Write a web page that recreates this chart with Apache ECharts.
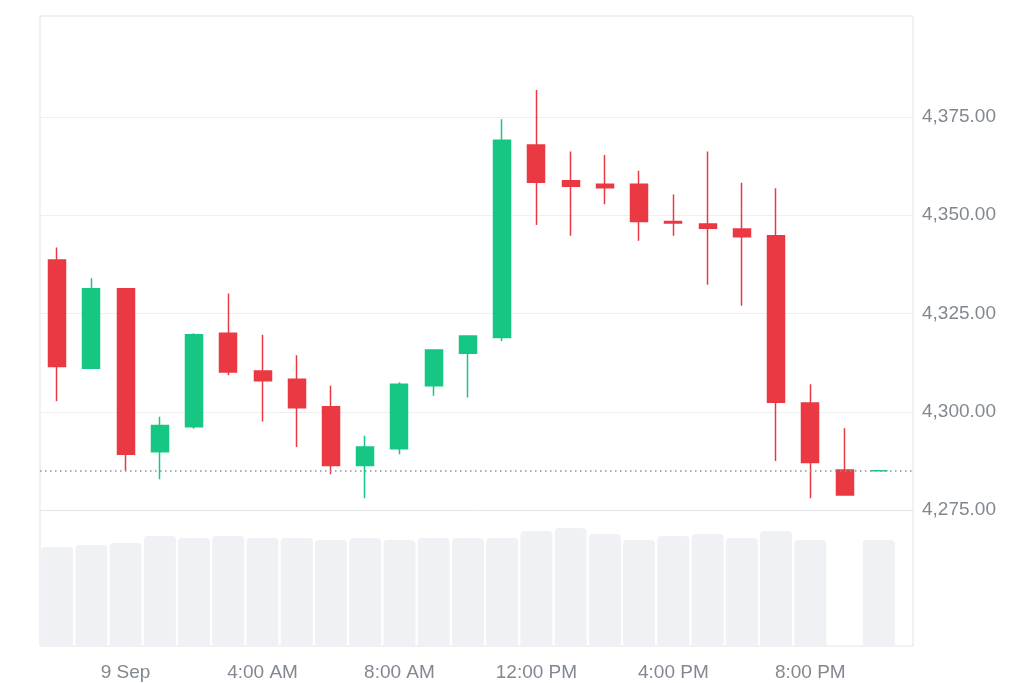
<!DOCTYPE html>
<html>
<head>
<meta charset="utf-8">
<script src="https://cdn.jsdelivr.net/npm/echarts@6/dist/echarts.min.js"></script>
<style>
html,body{margin:0;padding:0;background:#fff;}
#c{width:1024px;height:683px;}
</style>
</head>
<body>
<div id="c"></div>
<script>
// Hourly candles, 10:00 PM (8 Sep) to 10:00 PM (9 Sep)
var times = ['10:00 PM','11:00 PM','9 Sep','1:00 AM','2:00 AM','3:00 AM','4:00 AM','5:00 AM','6:00 AM','7:00 AM','8:00 AM','9:00 AM','10:00 AM','11:00 AM','12:00 PM','1:00 PM','2:00 PM','3:00 PM','4:00 PM','5:00 PM','6:00 PM','7:00 PM','8:00 PM','9:00 PM','10:00 PM'];
var opens  = [4338.6,4311.1,4331.3,4289.8,4296.2,4320.0,4310.4,4308.3,4301.3,4286.3,4290.6,4306.6,4314.9,4318.9,4367.9,4358.8,4357.9,4357.9,4348.4,4347.8,4346.5,4344.8,4302.2,4285.2,4285.0];
var closes = [4311.5,4331.3,4289.2,4296.5,4319.6,4310.1,4307.9,4301.0,4286.3,4291.0,4307.0,4315.7,4319.3,4369.1,4358.4,4357.4,4357.0,4348.4,4348.0,4346.7,4344.5,4302.4,4287.1,4278.8,4285.0];
var lows   = [4302.7,4311.1,4285.0,4282.8,4295.7,4309.3,4297.5,4291.0,4284.1,4278.0,4289.2,4304.1,4303.6,4318.0,4347.5,4344.8,4352.8,4343.5,4344.8,4332.3,4327.0,4287.5,4278.0,4278.8,4285.0];
var highs  = [4341.8,4334.0,4331.3,4298.7,4320.0,4330.1,4319.6,4314.4,4306.6,4293.9,4307.5,4315.7,4319.3,4374.4,4381.9,4366.2,4365.3,4361.3,4355.3,4366.2,4358.3,4356.9,4307.0,4295.8,4285.0];
var volumes = [99,101,103,110,108,110,108,108,106,108,106,108,108,108,115,118,112,106,110,112,108,115,106,0,106];
var xTickIdx = [2,6,10,14,18,22];
var yTicks = [4275,4300,4325,4350,4375];
var lastPrice = 4285.0;

var candleData = times.map(function(t,i){ return [i, opens[i], closes[i], lows[i], highs[i]]; });
var volData = times.map(function(t,i){ return volumes[i] > 0 ? [i, volumes[i]] : [i, '-']; });

var UP = '#16c784', DOWN = '#ea3943';
var FONT = "'Liberation Sans', Arial, sans-serif";
var TXT = '#828891';
var BORDER = '#e3e4e6';

var chart = echarts.init(document.getElementById('c'), null, {renderer:'canvas'});
chart.setOption({
  animation: false,
  backgroundColor: '#fff',
  grid: [
    {left:40, right:111, top:18.75, height:491.25},
    {left:40, right:111, top:510, height:136},
    {left:40, right:111, top:16, height:630, show:true, borderColor:BORDER, borderWidth:1, backgroundColor:'transparent'}
  ],
  xAxis: [
    {type:'value', gridIndex:0, min:-0.5, max:25, axisLine:{show:true, lineStyle:{color:BORDER}}, axisTick:{show:false}, axisLabel:{show:false}, splitLine:{show:false}},
    {type:'value', gridIndex:1, min:-0.5, max:25, axisLine:{show:false}, axisTick:{show:false}, splitLine:{show:false},
      axisLabel:{show:true, customValues:xTickIdx, formatter:function(v){ return times[Math.round(v)]; }, color:TXT, fontSize:19, fontFamily:FONT, margin:17}},
    {type:'value', gridIndex:2, min:0, max:1, show:false}
  ],
  yAxis: [
    {type:'value', gridIndex:0, position:'right', min:4275, max:4400, interval:25, scale:true,
      axisLine:{show:false}, axisTick:{show:false},
      splitLine:{show:true, showMaxLine:false, lineStyle:{color:'#efeff0', width:1}},
      axisLabel:{color:TXT, fontSize:19, fontFamily:FONT, margin:9,
        formatter:function(v){ if(yTicks.indexOf(v) < 0) return ''; return v.toLocaleString('en-US',{minimumFractionDigits:2, maximumFractionDigits:2}); }}},
    {type:'value', gridIndex:1, min:0, max:136, show:false},
    {type:'value', gridIndex:2, min:0, max:1, show:false}
  ],
  series: [
    {type:'bar', xAxisIndex:1, yAxisIndex:1, data:volData, barWidth:32,
      itemStyle:{color:'#eff1f4', borderRadius:[4,4,0,0]}, silent:true},
    {type:'candlestick', xAxisIndex:0, yAxisIndex:0, data:candleData,
      encode:{x:0, y:[1,2,3,4]}, barWidth:17.5,
      itemStyle:{color:UP, color0:DOWN, borderColor:UP, borderColor0:DOWN, borderWidth:1.5},
      markLine:{silent:true, symbol:['none','none'], label:{show:false},
        lineStyle:{color:'#8d939b', type:[1.5,3.5], width:1.5},
        data:[{yAxis:lastPrice}]}
    }
  ]
});
</script>
</body>
</html>
